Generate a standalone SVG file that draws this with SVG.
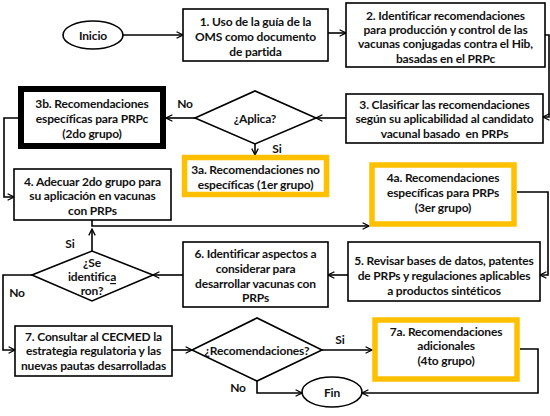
<svg xmlns="http://www.w3.org/2000/svg" width="550" height="416" viewBox="0 0 550 416">
<defs>
<marker id="arr" viewBox="0 0 10 10" refX="9" refY="5" markerWidth="8" markerHeight="8" markerUnits="userSpaceOnUse" orient="auto">
<path d="M1,1 L9,5 L1,9" fill="none" stroke="#000" stroke-width="1.6"/>
</marker>
</defs>
<style>
text{font-family:Lato,"Liberation Sans",sans-serif;font-weight:bold;font-size:12px;letter-spacing:-0.15px;fill:#111;text-anchor:middle;dominant-baseline:central}
.box{fill:#fff;stroke:#000;stroke-width:1.6}
.thick{fill:#fff;stroke:#000;stroke-width:6}
.yel{fill:#fff;stroke:#FFC000;stroke-width:5.5}
.c{fill:none;stroke:#000;stroke-width:1.6;marker-end:url(#arr)}
</style>
<rect width="550" height="416" fill="#fff"/>
<g id="connectors">
<path class="c" d="M123,35 L183,35"/>
<path class="c" d="M328,33 L346,33"/>
<path class="c" d="M545,35 L549,35 L549,117 L543,117"/>
<path class="c" d="M346,118 L316,118"/>
<path class="c" d="M195,118 L166,118"/>
<path class="c" d="M255,144 L255,155"/>
<path class="c" d="M18,118 L4,118 L4,197 L14,197"/>
<path class="c" d="M92,220 L92,226 L369,226"/>
<path class="c" d="M517,192 L548,192 L548,275 L540,275"/>
<path class="c" d="M348,275 L328,275"/>
<path class="c" d="M183,275 L153,275"/>
<path class="c" d="M92,251 L92,229"/>
<path class="c" d="M32,275 L3,275 L3,350 L15,350"/>
<path class="c" d="M172,350 L192,350"/>
<path class="c" d="M322,350 L372,350"/>
<path class="c" d="M257,381 L257,393 L302,393"/>
<path class="c" d="M520,349 L538,349 L538,393 L362,393"/>
</g>
<g id="lbl-no1"><text x="185" y="103">No</text></g>
<g id="lbl-si1"><text x="277" y="148">Si</text></g>
<g id="lbl-si2"><text x="70" y="243">Si</text></g>
<g id="lbl-no2"><text x="17" y="292">No</text></g>
<g id="lbl-si3"><text x="340" y="339">Si</text></g>
<g id="lbl-no3"><text x="238" y="387">No</text></g>
<g id="inicio">
<ellipse cx="93" cy="35" rx="30" ry="14" class="box"/>
<text x="93" y="35">Inicio</text>
</g>
<g id="n1">
<rect x="183" y="9" width="145" height="52" class="box"/>
<text x="255.5" y="21">1. Uso de la guía de la</text>
<text x="255.5" y="36">OMS como documento</text>
<text x="255.5" y="51">de partida</text>
</g>
<g id="n2">
<rect x="346" y="3" width="199" height="64" class="box"/>
<text x="445.5" y="15">2. Identificar recomendaciones</text>
<text x="445.5" y="29">para producción y control de las</text>
<text x="445.5" y="43">vacunas conjugadas contra el Hib,</text>
<text x="445.5" y="58">basadas en el PRPc</text>
</g>
<g id="n3">
<rect x="346" y="94" width="197" height="49" class="box"/>
<text x="444.5" y="104">3. Clasificar las recomendaciones</text>
<text x="444.5" y="118">según su aplicabilidad al candidato</text>
<text x="444.5" y="133" xml:space="preserve">vacunal basado  en PRPs</text>
</g>
<g id="aplica">
<polygon points="195,118 255,91 316,118 255,144" class="box"/>
<text x="255" y="118">¿Aplica?</text>
</g>
<g id="n3b">
<rect x="21" y="89" width="142" height="57" class="thick"/>
<text x="92" y="103">3b. Recomendaciones</text>
<text x="92" y="118">específicas para PRPc</text>
<text x="92" y="133">(2do grupo)</text>
</g>
<g id="n3a">
<rect x="184.5" y="157.5" width="142" height="37" class="yel"/>
<text x="255.5" y="169">3a. Recomendaciones no</text>
<text x="255.5" y="184">específicas (1er grupo)</text>
</g>
<g id="n4">
<rect x="14" y="169" width="157" height="51" class="box"/>
<text x="92.5" y="181">4. Adecuar 2do grupo para</text>
<text x="92.5" y="195">su aplicación en vacunas</text>
<text x="92.5" y="210">con PRPs</text>
</g>
<g id="n4a">
<rect x="372" y="165" width="142" height="59" class="yel"/>
<text x="443" y="177">4a. Recomendaciones</text>
<text x="443" y="192">específicas para PRPs</text>
<text x="443" y="207">(3er grupo)</text>
</g>
<g id="n5">
<rect x="348" y="242" width="192" height="59" class="box"/>
<text x="444" y="260">5. Revisar bases de datos, patentes</text>
<text x="444" y="275">de PRPs y regulaciones aplicables</text>
<text x="444" y="290">a productos sintéticos</text>
</g>
<g id="n6">
<rect x="183" y="242" width="145" height="65" class="box"/>
<text x="255.5" y="253">6. Identificar aspectos a</text>
<text x="255.5" y="268">considerar para</text>
<text x="255.5" y="283">desarrollar vacunas con</text>
<text x="255.5" y="297">PRPs</text>
</g>
<g id="seidentificaron">
<polygon points="32,275 92,251 153,275 92,301" class="box"/>
<text x="92" y="262">¿Se</text>
<text x="92" y="276">identific<tspan text-decoration="underline">a</tspan></text>
<text x="92" y="290">ron?</text>
</g>
<g id="n7">
<rect x="15" y="326" width="157" height="50" class="box"/>
<text x="93.5" y="336">7. Consultar al CECMED la</text>
<text x="93.5" y="350">estrategia regulatoria y las</text>
<text x="93.5" y="365">nuevas pautas desarrolladas</text>
</g>
<g id="recomendaciones">
<polygon points="192,350 257,318 322,350 257,381" class="box"/>
<text x="257" y="350">¿Recomendaciones?</text>
</g>
<g id="n7a">
<rect x="375" y="320" width="142" height="59" class="yel"/>
<text x="446" y="331">7a. Recomendaciones</text>
<text x="446" y="345">adicionales</text>
<text x="446" y="360">(4to grupo)</text>
</g>
<g id="fin">
<ellipse cx="332" cy="392" rx="30" ry="15" class="box"/>
<text x="332" y="392">Fin</text>
</g>
</svg>
